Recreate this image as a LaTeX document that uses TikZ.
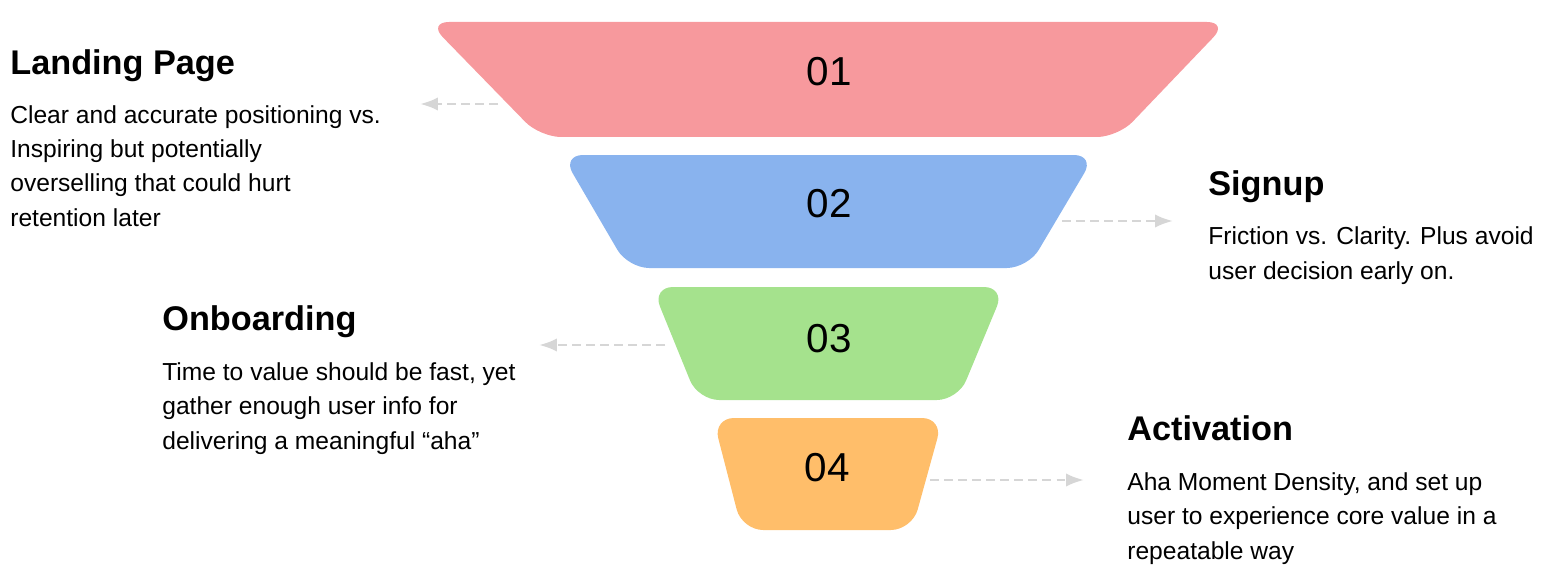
\documentclass[tikz,border=0pt]{standalone}
\usepackage{fontspec}
\setmainfont{Liberation Sans}
\usetikzlibrary{arrows.meta}
\definecolor{stagered}{HTML}{F7999D}
\definecolor{stageblue}{HTML}{89B3EE}
\definecolor{stagegreen}{HTML}{A5E28D}
\definecolor{stageorange}{HTML}{FFBE6A}
\definecolor{linkgray}{HTML}{D6D6D6}
\tikzset{>=Latex}

\begin{document}
\begin{tikzpicture}[x=0.02cm, y=-0.02cm,
	stage/.style={rounded corners=12pt, draw=none},
	num/.style={font=\fontsize{23}{23}\selectfont},
	title/.style={anchor=base west, inner sep=0, font=\fontsize{19.5}{20}\selectfont\bfseries},
	body/.style={anchor=base west, inner sep=0, align=left, font=\fontsize{14}{19.4}\selectfont},
	link/.style={->, linkgray, line width=1.6pt, dash pattern=on 5pt off 3pt}]
		% Frame
		\useasboundingbox (0,0) rectangle (1545,581);

		% Funnel stages
		\fill[stage, stagered] (428,22) -- (1228,22) -- (1118,137) -- (540,137) -- cycle;
		\fill[stage, stageblue] (562,155) -- (1095,155) -- (1028,268) -- (628,268) -- cycle;
		\fill[stage, stagegreen] (652,287) -- (1005,287) -- (958,400) -- (698,400) -- cycle;
		\fill[stage, stageorange] (713,418) -- (943,418) -- (912,530) -- (742,530) -- cycle;
		\node[num] (s1) at (829,72) {01};
		\node[num] (s2) at (829,204) {02};
		\node[num] (s3) at (829,339) {03};
		\node[num] (s4) at (827,468) {04};

		% Connectors
		\coordinate (a1) at (498,104); \coordinate (b1) at (420,104);
		\coordinate (a2) at (1062,221); \coordinate (b2) at (1173,221);
		\coordinate (a3) at (665,345); \coordinate (b3) at (539,345);
		\coordinate (a4) at (930,480); \coordinate (b4) at (1084,480);
		\draw[link] (a1) -- (b1);
		\draw[link] (a2) -- (b2);
		\draw[link] (a3) -- (b3);
		\draw[link] (a4) -- (b4);

		% Labels (body nodes sit on the baseline of their last line)
		\node[title] (t1) at (10,75) {Landing Page};
		\node[body] (d1) at (10,226) {Clear and accurate positioning vs.\\Inspiring but potentially\\overselling that could hurt\\retention later};
		\node[title] (t2) at (1208,195) {Signup};
		\node[body] (d2) at (1208,279) {Friction vs. Clarity. Plus avoid\\user decision early on.};
		\node[title] (t3) at (162,330) {Onboarding};
		\node[body] (d3) at (162,449) {Time to value should be fast, yet\\gather enough user info for\\delivering a meaningful “aha”};
		\node[title] (t4) at (1127,440) {Activation};
		\node[body] (d4) at (1127,559) {Aha Moment Density, and set up\\user to experience core value in a\\repeatable way};
	\end{tikzpicture}
\end{document}
